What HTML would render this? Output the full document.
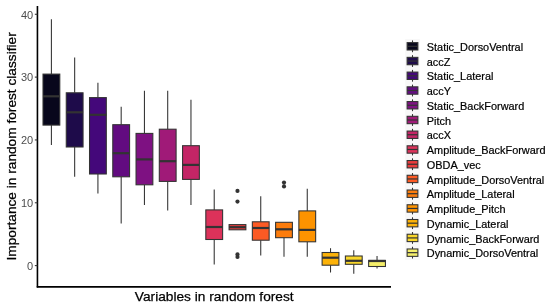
<!DOCTYPE html>
<html><head><meta charset="utf-8"><style>
html,body{margin:0;padding:0;background:#fff;}
svg{display:block;}
text{font-family:"Liberation Sans",Arial,sans-serif;}
.w{stroke:#333333;stroke-width:1.07;}
.b{stroke:#333333;stroke-width:1.07;}
.m{stroke:#333333;stroke-width:2.2;}
.km{stroke:#333333;stroke-width:1.2;}
.ax{stroke:#000;stroke-width:1.6;}
.tk{stroke:#333333;stroke-width:1.07;}
.tl{font-size:11px;fill:#4d4d4d;}
.at{font-size:13.7px;fill:#000;stroke:#000;stroke-width:0.25px;}
.lt{font-size:10.9px;fill:#000;stroke:#000;stroke-width:0.2px;}
</style></head><body>
<svg width="550" height="307" viewBox="0 0 550 307">
<rect width="550" height="307" fill="#fff"/>
<line x1="51.40" y1="19.2" x2="51.40" y2="74.1" class="w"/>
<line x1="51.40" y1="125.1" x2="51.40" y2="145.1" class="w"/>
<rect x="43.00" y="74.1" width="16.80" height="51.00" fill="#08071c" class="b"/>
<line x1="43.00" y1="96.3" x2="59.80" y2="96.3" class="m"/>
<line x1="74.66" y1="57.6" x2="74.66" y2="92.8" class="w"/>
<line x1="74.66" y1="147.0" x2="74.66" y2="176.8" class="w"/>
<rect x="66.26" y="92.8" width="16.80" height="54.20" fill="#1e0b4a" class="b"/>
<line x1="66.26" y1="112.3" x2="83.06" y2="112.3" class="m"/>
<line x1="97.92" y1="82.7" x2="97.92" y2="97.6" class="w"/>
<line x1="97.92" y1="174.0" x2="97.92" y2="193.6" class="w"/>
<rect x="89.52" y="97.6" width="16.80" height="76.40" fill="#44087a" class="b"/>
<line x1="89.52" y1="114.8" x2="106.32" y2="114.8" class="m"/>
<line x1="121.18" y1="106.8" x2="121.18" y2="124.7" class="w"/>
<line x1="121.18" y1="176.8" x2="121.18" y2="223.6" class="w"/>
<rect x="112.78" y="124.7" width="16.80" height="52.10" fill="#620b80" class="b"/>
<line x1="112.78" y1="153.2" x2="129.58" y2="153.2" class="m"/>
<line x1="144.44" y1="90.7" x2="144.44" y2="133.4" class="w"/>
<line x1="144.44" y1="184.8" x2="144.44" y2="205.0" class="w"/>
<rect x="136.04" y="133.4" width="16.80" height="51.40" fill="#7e1182" class="b"/>
<line x1="136.04" y1="159.4" x2="152.84" y2="159.4" class="m"/>
<line x1="167.70" y1="90.7" x2="167.70" y2="129.2" class="w"/>
<line x1="167.70" y1="181.4" x2="167.70" y2="210.6" class="w"/>
<rect x="159.30" y="129.2" width="16.80" height="52.20" fill="#a01a78" class="b"/>
<line x1="159.30" y1="161.2" x2="176.10" y2="161.2" class="m"/>
<line x1="190.96" y1="99.7" x2="190.96" y2="145.7" class="w"/>
<line x1="190.96" y1="179.4" x2="190.96" y2="205.0" class="w"/>
<rect x="182.56" y="145.7" width="16.80" height="33.70" fill="#c42566" class="b"/>
<line x1="182.56" y1="164.9" x2="199.36" y2="164.9" class="m"/>
<line x1="214.22" y1="189.6" x2="214.22" y2="209.9" class="w"/>
<line x1="214.22" y1="239.5" x2="214.22" y2="264.6" class="w"/>
<rect x="205.82" y="209.9" width="16.80" height="29.60" fill="#dc325a" class="b"/>
<line x1="205.82" y1="227.0" x2="222.62" y2="227.0" class="m"/>
<rect x="229.08" y="224.6" width="16.80" height="5.20" fill="#ea3c3c" class="b"/>
<line x1="229.08" y1="227.2" x2="245.88" y2="227.2" class="m"/>
<circle cx="237.48" cy="190.9" r="2.1" fill="#333333"/>
<circle cx="237.48" cy="201.6" r="2.1" fill="#333333"/>
<circle cx="237.48" cy="254.4" r="2.1" fill="#333333"/>
<circle cx="237.48" cy="257.0" r="2.1" fill="#333333"/>
<line x1="260.74" y1="196.2" x2="260.74" y2="221.8" class="w"/>
<line x1="260.74" y1="240.2" x2="260.74" y2="255.4" class="w"/>
<rect x="252.34" y="221.8" width="16.80" height="18.40" fill="#fc5a24" class="b"/>
<line x1="252.34" y1="228.0" x2="269.14" y2="228.0" class="m"/>
<line x1="284.00" y1="237.7" x2="284.00" y2="256.8" class="w"/>
<rect x="275.60" y="222.3" width="16.80" height="15.40" fill="#fc7c0c" class="b"/>
<line x1="275.60" y1="229.3" x2="292.40" y2="229.3" class="m"/>
<circle cx="284.00" cy="182.6" r="2.1" fill="#333333"/>
<circle cx="284.00" cy="186.4" r="2.1" fill="#333333"/>
<line x1="307.26" y1="188.7" x2="307.26" y2="210.9" class="w"/>
<line x1="307.26" y1="241.8" x2="307.26" y2="256.7" class="w"/>
<rect x="298.86" y="210.9" width="16.80" height="30.90" fill="#fd9300" class="b"/>
<line x1="298.86" y1="229.9" x2="315.66" y2="229.9" class="m"/>
<line x1="330.52" y1="248.2" x2="330.52" y2="252.5" class="w"/>
<line x1="330.52" y1="265.2" x2="330.52" y2="272.5" class="w"/>
<rect x="322.12" y="252.5" width="16.80" height="12.70" fill="#fcb208" class="b"/>
<line x1="322.12" y1="257.7" x2="338.92" y2="257.7" class="m"/>
<line x1="353.78" y1="250.3" x2="353.78" y2="256.0" class="w"/>
<line x1="353.78" y1="264.3" x2="353.78" y2="273.8" class="w"/>
<rect x="345.38" y="256.0" width="16.80" height="8.30" fill="#f8d62a" class="b"/>
<line x1="345.38" y1="260.8" x2="362.18" y2="260.8" class="m"/>
<line x1="377.04" y1="256.0" x2="377.04" y2="260.4" class="w"/>
<line x1="377.04" y1="266.5" x2="377.04" y2="268.6" class="w"/>
<rect x="368.64" y="260.4" width="16.80" height="6.10" fill="#f4ee6a" class="b"/>
<line x1="368.64" y1="261.0" x2="385.44" y2="261.0" class="m"/>
<line x1="37.44" y1="5.9" x2="37.44" y2="287.5" class="ax"/>
<line x1="36.74" y1="286.9" x2="391.00" y2="286.9" class="ax" style="stroke-width:1.8"/>
<line x1="34.84" y1="265.60" x2="37.44" y2="265.60" class="tk"/>
<text x="33.14" y="269.90" class="tl" text-anchor="end">0</text>
<line x1="34.84" y1="202.77" x2="37.44" y2="202.77" class="tk"/>
<text x="33.14" y="207.07" class="tl" text-anchor="end">10</text>
<line x1="34.84" y1="139.94" x2="37.44" y2="139.94" class="tk"/>
<text x="33.14" y="144.24" class="tl" text-anchor="end">20</text>
<line x1="34.84" y1="77.11" x2="37.44" y2="77.11" class="tk"/>
<text x="33.14" y="81.41" class="tl" text-anchor="end">30</text>
<line x1="34.84" y1="14.28" x2="37.44" y2="14.28" class="tk"/>
<text x="33.14" y="18.58" class="tl" text-anchor="end">40</text>
<text x="214.22" y="301.0" class="at" text-anchor="middle">Variables in random forest</text>
<text transform="translate(16.0 146.40) rotate(-90)" x="0" y="0" class="at" text-anchor="middle">Importance in random forest classifier</text>
<rect x="405.13" y="38.93" width="14.74" height="221.10" fill="#f8f8f8"/>
<line x1="412.5" y1="40.40" x2="412.5" y2="52.20" class="w"/>
<rect x="407.12" y="42.62" width="10.76" height="7.37" fill="#08071c" class="b"/>
<line x1="407.12" y1="46.30" x2="417.88" y2="46.30" class="km"/>
<text x="426.8" y="51.00" class="lt">Static_DorsoVentral</text>
<line x1="412.5" y1="55.14" x2="412.5" y2="66.94" class="w"/>
<rect x="407.12" y="57.36" width="10.76" height="7.37" fill="#1e0b4a" class="b"/>
<line x1="407.12" y1="61.04" x2="417.88" y2="61.04" class="km"/>
<text x="426.8" y="65.74" class="lt">accZ</text>
<line x1="412.5" y1="69.88" x2="412.5" y2="81.68" class="w"/>
<rect x="407.12" y="72.09" width="10.76" height="7.37" fill="#44087a" class="b"/>
<line x1="407.12" y1="75.78" x2="417.88" y2="75.78" class="km"/>
<text x="426.8" y="80.48" class="lt">Static_Lateral</text>
<line x1="412.5" y1="84.62" x2="412.5" y2="96.42" class="w"/>
<rect x="407.12" y="86.83" width="10.76" height="7.37" fill="#620b80" class="b"/>
<line x1="407.12" y1="90.52" x2="417.88" y2="90.52" class="km"/>
<text x="426.8" y="95.22" class="lt">accY</text>
<line x1="412.5" y1="99.36" x2="412.5" y2="111.16" class="w"/>
<rect x="407.12" y="101.57" width="10.76" height="7.37" fill="#7e1182" class="b"/>
<line x1="407.12" y1="105.26" x2="417.88" y2="105.26" class="km"/>
<text x="426.8" y="109.96" class="lt">Static_BackForward</text>
<line x1="412.5" y1="114.10" x2="412.5" y2="125.90" class="w"/>
<rect x="407.12" y="116.31" width="10.76" height="7.37" fill="#a01a78" class="b"/>
<line x1="407.12" y1="120.00" x2="417.88" y2="120.00" class="km"/>
<text x="426.8" y="124.70" class="lt">Pitch</text>
<line x1="412.5" y1="128.84" x2="412.5" y2="140.64" class="w"/>
<rect x="407.12" y="131.06" width="10.76" height="7.37" fill="#c42566" class="b"/>
<line x1="407.12" y1="134.74" x2="417.88" y2="134.74" class="km"/>
<text x="426.8" y="139.44" class="lt">accX</text>
<line x1="412.5" y1="143.58" x2="412.5" y2="155.38" class="w"/>
<rect x="407.12" y="145.80" width="10.76" height="7.37" fill="#dc325a" class="b"/>
<line x1="407.12" y1="149.48" x2="417.88" y2="149.48" class="km"/>
<text x="426.8" y="154.18" class="lt">Amplitude_BackForward</text>
<line x1="412.5" y1="158.32" x2="412.5" y2="170.12" class="w"/>
<rect x="407.12" y="160.53" width="10.76" height="7.37" fill="#ea3c3c" class="b"/>
<line x1="407.12" y1="164.22" x2="417.88" y2="164.22" class="km"/>
<text x="426.8" y="168.92" class="lt">OBDA_vec</text>
<line x1="412.5" y1="173.06" x2="412.5" y2="184.86" class="w"/>
<rect x="407.12" y="175.27" width="10.76" height="7.37" fill="#fc5a24" class="b"/>
<line x1="407.12" y1="178.96" x2="417.88" y2="178.96" class="km"/>
<text x="426.8" y="183.66" class="lt">Amplitude_DorsoVentral</text>
<line x1="412.5" y1="187.80" x2="412.5" y2="199.60" class="w"/>
<rect x="407.12" y="190.01" width="10.76" height="7.37" fill="#fc7c0c" class="b"/>
<line x1="407.12" y1="193.70" x2="417.88" y2="193.70" class="km"/>
<text x="426.8" y="198.40" class="lt">Amplitude_Lateral</text>
<line x1="412.5" y1="202.54" x2="412.5" y2="214.34" class="w"/>
<rect x="407.12" y="204.75" width="10.76" height="7.37" fill="#fd9300" class="b"/>
<line x1="407.12" y1="208.44" x2="417.88" y2="208.44" class="km"/>
<text x="426.8" y="213.14" class="lt">Amplitude_Pitch</text>
<line x1="412.5" y1="217.28" x2="412.5" y2="229.08" class="w"/>
<rect x="407.12" y="219.50" width="10.76" height="7.37" fill="#fcb208" class="b"/>
<line x1="407.12" y1="223.18" x2="417.88" y2="223.18" class="km"/>
<text x="426.8" y="227.88" class="lt">Dynamic_Lateral</text>
<line x1="412.5" y1="232.02" x2="412.5" y2="243.82" class="w"/>
<rect x="407.12" y="234.24" width="10.76" height="7.37" fill="#f8d62a" class="b"/>
<line x1="407.12" y1="237.92" x2="417.88" y2="237.92" class="km"/>
<text x="426.8" y="242.62" class="lt">Dynamic_BackForward</text>
<line x1="412.5" y1="246.76" x2="412.5" y2="258.56" class="w"/>
<rect x="407.12" y="248.98" width="10.76" height="7.37" fill="#f4ee6a" class="b"/>
<line x1="407.12" y1="252.66" x2="417.88" y2="252.66" class="km"/>
<text x="426.8" y="257.36" class="lt">Dynamic_DorsoVentral</text>
</svg>
</body></html>
